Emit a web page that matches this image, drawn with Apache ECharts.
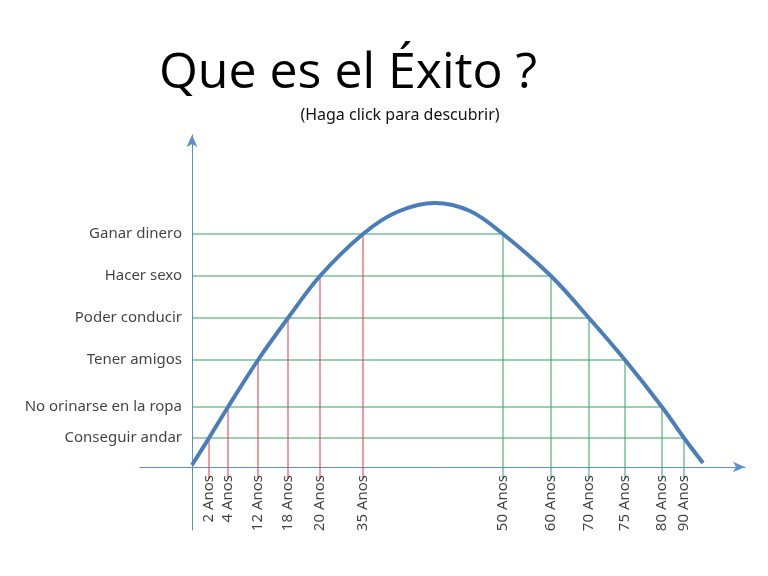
<!DOCTYPE html>
<html><head><meta charset="utf-8">
<script src="https://cdn.jsdelivr.net/npm/echarts@6/dist/echarts.min.js"></script>
<style>html,body{margin:0;background:#fff}#c{width:768px;height:576px}</style></head>
<body><div id="c"></div>
<script>
const levelNames = ['Conseguir andar','No orinarse en la ropa','Tener amigos','Poder conducir','Hacer sexo','Ganar dinero'];
const levelValues = [29,60,107,149,191,233];
const leftAges = ['2 Anos','4 Anos','12 Anos','18 Anos','20 Anos','35 Anos'];
const leftPos = [17,36,66,96,128,171];
const rightAges = ['90 Anos','80 Anos','75 Anos','70 Anos','60 Anos','50 Anos'];
const rightPos = [492,470,433,397,359,311];
const curve = [[0,2],[17,29],[36,60],[66,107],[96,149],[128,191],[171,233],[205,255],[243,264],[278,256],[311,233],[359,191],[397,149],[433,107],[470,60],[492,29],[511,4]];

const series = [];
const font = {fontFamily:'Noto Sans', fontSize:15, color:'#111'};
levelValues.forEach((v,i)=>{
  series.push({type:'line',silent:true,symbol:'none',data:[[0,v],[rightPos[i],v]],lineStyle:{color:'#2ea55a',width:1},z:1});
  series.push({type:'line',silent:true,symbol:'none',data:[[leftPos[i],-12],[leftPos[i],v]],lineStyle:{color:'#e0393e',width:1},z:1});
  series.push({type:'line',silent:true,symbol:'none',data:[[rightPos[i],-12],[rightPos[i],v]],lineStyle:{color:'#2ea55a',width:1},z:1});
});
series.push({type:'scatter',silent:true,symbolSize:0,data:levelValues.map((v,i)=>({value:[-10,v],label:{formatter:levelNames[i]}})),
  label:{show:true,position:'left',distance:0,...font}});
const ageData = leftPos.map((p,i)=>({value:[p,-4],label:{formatter:leftAges[i]}}))
  .concat(rightPos.map((p,i)=>({value:[p,-4],label:{formatter:rightAges[i]}})));
series.push({type:'scatter',silent:true,symbolSize:0,data:ageData,
  label:{show:true,position:'bottom',rotate:90,align:'right',verticalAlign:'middle',distance:4,...font}});
series.push({type:'line',smooth:0.35,symbol:'none',data:curve,lineStyle:{color:'#4a7ebb',width:4},z:5});

echarts.init(document.getElementById('c')).setOption({
  animation:false,
  title:[{text:'Que es el Éxito ?',left:343,top:44,textAlign:'center',textStyle:{fontFamily:'Open Sans',fontSize:50,fontWeight:'normal',color:'#000'}},
         {text:'(Haga click para descubrir)',left:395,top:102,textAlign:'center',textStyle:{fontFamily:'Noto Sans',fontSize:16,fontWeight:'normal',color:'#111'}}],
  grid:{left:140,right:23,top:135,bottom:46},
  xAxis:{type:'value',min:-52,max:553,splitLine:{show:false},axisLabel:{show:false},axisTick:{show:false},
    axisLine:{onZero:true,symbol:['none','arrow'],symbolSize:[8,12],lineStyle:{color:'#5b8fd0',width:1}}},
  yAxis:{type:'value',min:-63,max:332,splitLine:{show:false},axisLabel:{show:false},axisTick:{show:false},
    axisLine:{onZero:true,symbol:['none','arrow'],symbolSize:[8,12],lineStyle:{color:'#5b8fd0',width:1}}},
  series
});
</script></body></html>
